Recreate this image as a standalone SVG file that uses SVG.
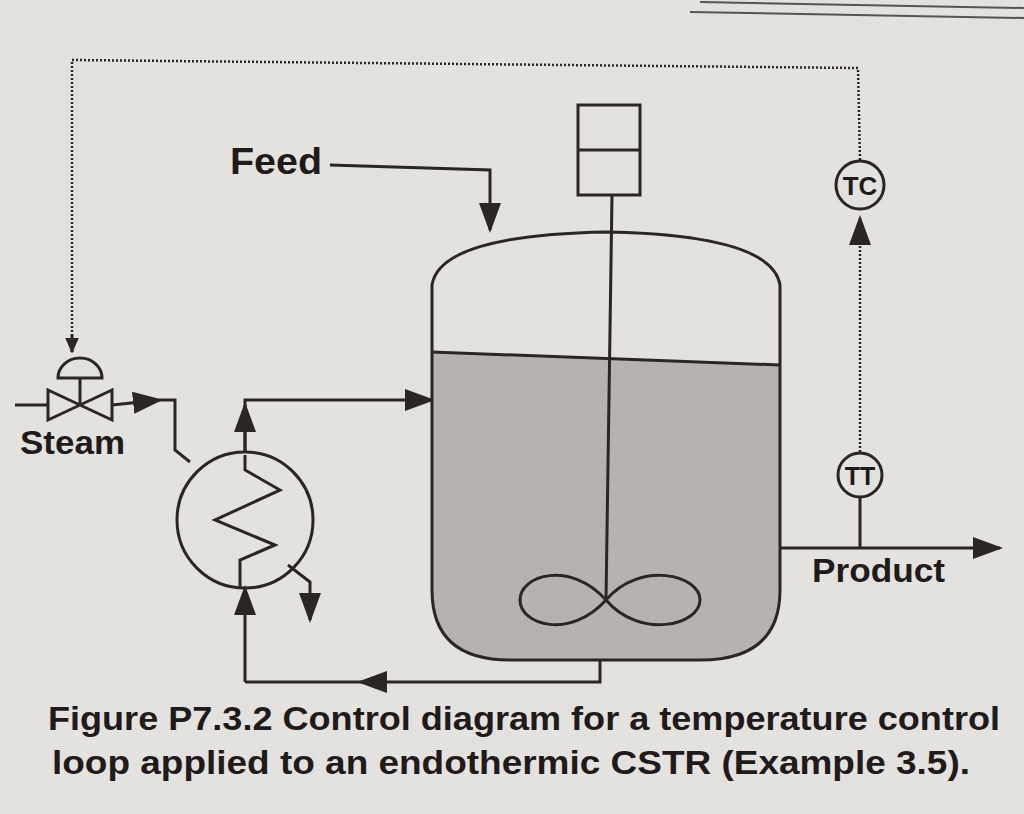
<svg xmlns="http://www.w3.org/2000/svg" width="1024" height="814" viewBox="0 0 1024 814">
<defs>
<marker id="big" viewBox="0 0 10 10" refX="9" refY="5" markerWidth="30" markerHeight="22" markerUnits="userSpaceOnUse" orient="auto" preserveAspectRatio="none"><path d="M0,0 L10,5 L0,10 z" fill="#2a2624"/></marker>
<marker id="sm" viewBox="0 0 10 10" refX="9" refY="5" markerWidth="16" markerHeight="14" markerUnits="userSpaceOnUse" orient="auto" preserveAspectRatio="none"><path d="M0,0 L10,5 L0,10 z" fill="#2a2624"/></marker>
<style>
.p{fill:none;stroke:#2a2624;stroke-width:3}
.s{fill:none;stroke:#2a2624;stroke-width:2.5;stroke-dasharray:2 2}
.t{font-family:"Liberation Sans",Arial,sans-serif;font-weight:bold;fill:#1e1b1a}
</style>
</defs>
<rect width="1024" height="814" fill="#e4e2df"/>
<path d="M700,2 L1024,8 M690,12 L1024,18" stroke="#555" stroke-width="2" fill="none"/>
<g id="connectors">
<path class="s" d="M72,352 L72,60 L858,68 L860,160"/>
<path class="p" d="M72,335 L72,352" marker-end="url(#sm)"/>
<path class="s" d="M860,452 L860,218" marker-end="url(#big)"/>
<path class="p" d="M860,497 L860,548"/>
<path class="p" d="M780,548 L1000,548" marker-end="url(#big)"/>
<path class="p" d="M330,165 L490,170 L490,230" marker-end="url(#big)"/>
<path class="p" d="M15,405 L48,405 M112,405 L160,400" marker-end="url(#big)"/>
<path class="p" d="M160,400 L175,400 L175,450 L190,462"/>
<path class="p" d="M245,452 L245,400 L432,400" marker-end="url(#big)"/>
<path class="p" d="M245,452 L245,405" marker-end="url(#big)"/>
<path class="p" d="M600,660 L600,682 L360,682" marker-end="url(#big)"/>
<path class="p" d="M245,682 L245,660 L245,588" marker-end="url(#big)"/>
<path class="p" d="M245,682 L360,682"/>
<path class="p" d="M288,565 L310,582 L310,620" marker-end="url(#big)"/>
</g>
<g id="vessel">
<path d="M432,352 L780,365 L780,590 Q780,660 700,660 L510,660 Q432,660 432,590 Z" fill="#b5b2b0"/>
<path class="p" d="M432,285 Q440,235 606,232 Q772,235 780,285 L780,590 Q780,660 700,660 L510,660 Q432,660 432,590 Z"/>
<path class="p" d="M432,352 L780,365"/>
</g>
<g id="agitator">
<rect class="p" x="578" y="105" width="62" height="90"/>
<path class="p" d="M578,150 L640,150 M612,195 L606,600"/>
<path class="p" d="M606,600 C570,560 520,575 520,600 C520,625 570,640 606,600 C640,560 700,575 700,600 C700,625 640,640 606,600 Z"/>
</g>
<g id="valve">
<path class="p" d="M48,390 L48,420 L112,390 L112,420 Z"/>
<path class="p" d="M80,405 L80,378 M58,378 A22,20 0 0 1 102,378 Z"/>
</g>
<g id="hx">
<circle class="p" cx="245" cy="520" r="68"/>
<path class="p" d="M245,455 L245,470 L280,490 L215,520 L275,545 L240,560 L240,588"/>
</g>
<g id="TC"><circle class="p" cx="860" cy="185" r="24" fill="#e4e2df"/><text class="t" x="860" y="195" font-size="26" text-anchor="middle">TC</text></g>
<g id="TT"><circle class="p" cx="860" cy="475" r="22" fill="#e4e2df"/><text class="t" x="860" y="485" font-size="25" text-anchor="middle">TT</text></g>
<text class="t" x="230" y="174" font-size="36" textLength="92" lengthAdjust="spacingAndGlyphs">Feed</text>
<text class="t" x="20" y="454" font-size="33" textLength="105" lengthAdjust="spacingAndGlyphs">Steam</text>
<text class="t" x="812" y="582" font-size="34" textLength="133" lengthAdjust="spacingAndGlyphs">Product</text>
<text class="t" x="48" y="730" font-size="33" textLength="952" lengthAdjust="spacingAndGlyphs">Figure P7.3.2  Control diagram for a temperature control</text>
<text class="t" x="52" y="774" font-size="33" textLength="918" lengthAdjust="spacingAndGlyphs">loop applied to an endothermic CSTR (Example 3.5).</text>
</svg>
